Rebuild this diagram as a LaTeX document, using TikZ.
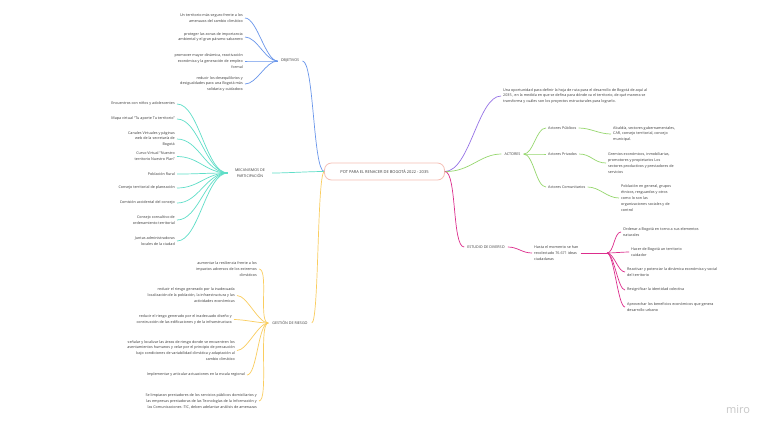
\documentclass[tikz,border=0pt]{standalone}
\usepackage{fontspec}
\setmainfont{Open Sans}
\definecolor{cBlue}{RGB}{105,150,235}
\definecolor{cTeal}{RGB}{95,222,200}
\definecolor{cYel}{RGB}{250,205,95}
\definecolor{cPur}{RGB}{150,115,230}
\definecolor{cGrn}{RGB}{150,215,110}
\definecolor{cPink}{RGB}{220,45,140}
\definecolor{cRoot}{RGB}{245,190,180}
\definecolor{cTxt}{RGB}{60,60,60}
\begin{document}
\begin{tikzpicture}[x=1pt,y=-1pt,
  txt/.style={inner xsep=2pt,inner ysep=0pt,text=cTxt,font=\fontsize{3.7}{5.9}\selectfont},
  tl/.style={txt,anchor=east,align=right},
  tr/.style={txt,anchor=west,align=left},
  lbl/.style={inner xsep=3pt,inner ysep=0pt,text=cTxt,align=center,font=\fontsize{3.7}{5.9}\selectfont},
  ln/.style={line width=0.7pt}]
\useasboundingbox[fill=white] (0,0) rectangle (768,432);

% root
\node[draw=cRoot,line width=0.8pt,fill=white,rounded corners=7pt,minimum width=120pt,minimum height=17pt,inner sep=0pt,text=cTxt,font=\fontsize{4}{5}\selectfont] (root) at (384.5,171.5) {POT PARA EL RENACER DE BOGOTÁ 2022 - 2035};

% objetivos
\node[lbl] (obj) at (290,61) {OBJETIVOS};
\node[tl] (o1) at (245,18) {Un territorio más seguro frente a los\\amenazas del cambio climático};
\node[tl] (o2) at (245,37) {proteger las zonas de importancia\\ambiental y el gran páramo sabanero};
\node[tl] (o3) at (245,61) {promover mayor dinámica, reactivación\\económica y la generación de empleo\\formal};
\node[tl] (o4) at (245,84) {reducir los desequilibrios y\\desigualdades para una Bogotá más\\solidaria y cuidadora};

% mecanismos
\node[lbl,inner xsep=7pt] (mec) at (250,173) {MECANISMOS DE\\PARTICIPACIÓN};
\node[tl] (m1) at (177,104) {Encuentros con niños y adolescentes};
\node[tl] (m2) at (177,119) {Mapa virtual “Tu aporte Tu territorio”};
\node[tl] (m3) at (177,139) {Canales Virtuales y páginas\\web de la secretaría de\\Bogotá};
\node[tl] (m4) at (177,156.5) {Curso Virtual “Nuestro\\territorio Nuestro Plan”};
\node[tl] (m5) at (177,174) {Población Rural};
\node[tl] (m6) at (177,188) {Consejo territorial de planeación};
\node[tl] (m7) at (177,203) {Comisión accidental del concejo};
\node[tl] (m8) at (177,220) {Consejo consultivo de\\ordenamiento territorial};
\node[tl] (m9) at (177,241) {Juntas administradoras\\locales de la ciudad};

% gestion de riesgo
\node[lbl,inner xsep=4pt] (gest) at (290,323) {GESTIÓN DE RIESGO};
\node[tl] (g1) at (259,269) {aumentar la resiliencia frente a los\\impactos adversos de los extremos\\climáticos};
\node[tl] (g2) at (237,295.5) {reducir el riesgo generado por la inadecuada\\localización de la población, la infraestructura y las\\actividades económicas};
\node[tl] (g3) at (234,319.5) {reducir el riesgo generado por el inadecuado diseño y\\construcción de las edificaciones y de la infraestructura};
\node[tl] (g4) at (237,350.5) {señalar y localizar las áreas de riesgo donde se encuentren los\\asentamientos humanos y velar por el principio de precaución\\bajo condiciones de variabilidad climática y adaptación al\\cambio climático};
\node[tl] (g5) at (247,375) {Implementar y articular actuaciones en la escala regional};
\node[tl] (g6) at (259,401) {Se limpiaran prestadores de los servicios públicos domiciliarios y\\las empresas prestadoras de las Tecnologías de la Información y\\las Comunicaciones -TIC, deben adelantar análisis de amenazas};

% description
\node[tr] (desc) at (501,96) {Una oportunidad para definir la hoja de ruta para el desarrollo de Bogotá de aquí al\\2035 , en la medida en que se defina para dónde va el territorio, de qué manera se\\transforma y cuáles son los proyectos estructurales para lograrlo.};

% actores
\node[lbl] (act) at (512.5,154) {ACTORES};
\node[tr] (pub) at (546,128) {Actores Públicos};
\node[tr] (priv) at (546,154) {Actores Privados};
\node[tr] (com) at (546,187) {Actores Comunitarios};
\node[tr] (pubg) at (611,134) {Alcaldía, sectores gubernamentales,\\CAR, consejo territorial, concejo\\municipal.};
\node[tr] (privg) at (606,163) {Gremios económicos, inmobiliarias,\\promotores y propietarios Los\\sectores productivos y prestadores de\\servicios};
\node[tr] (comg) at (619,198) {Población en general, grupos\\étnicos, resguardos y otros\\como lo son las\\organizaciones sociales y de\\control};

% estudio
\node[lbl] (est) at (486,247) {ESTUDIO DE DIVERSO};
\node[tr] (hasta) at (532,253) {Hasta el momento se han\\recolectado 76.671 ideas\\ciudadanas};
\coordinate (pconv) at (607,253);
\node[tr] (p1) at (621,232) {Ordenar a Bogotá en torno a sus elementos\\naturales};
\node[tr] (p2) at (629,252) {Hacer de Bogotá un territorio\\cuidador};
\node[tr] (p3) at (625,272) {Reactivar y potenciar la dinámica económica y social\\del territorio};
\node[tr] (p4) at (625,290) {Resignificar la identidad colectiva};
\node[tr] (p5) at (625,307) {Aprovechar los beneficios económicos que genera\\desarrollo urbano};

\node[text=black!22,inner sep=0pt,font=\fontsize{11}{11}\selectfont] (miro) at (738,410) {miro};

% connectors
\draw[ln,cBlue] (root.west) .. controls (313,170) and (314,61) .. (obj.east);
\foreach \n in {o1,o2,o3,o4}
  \draw[ln,cBlue] (obj.west) .. controls +(-12,0) and +(12,0) .. (\n.east);
\draw[ln,cTeal] (root.west) .. controls +(-15,0) and +(15,0) .. (mec.east);
\foreach \n in {m1,m2,m3,m4,m5,m6,m7,m8,m9}
  \draw[ln,cTeal] (mec.west) .. controls +(-22,0) and +(22,0) .. (\n.east);
\draw[ln,cYel] (root.west) .. controls (317,176) and (319,322) .. (gest.east);
\foreach \n in {g1,g2,g3,g4,g5,g6}
  \draw[ln,cYel] (gest.west) .. controls +(-10,0) and +(10,0) .. (\n.east);
\draw[ln,cPur] (root.east) .. controls (470,171) and (478,96) .. (desc.west);
\draw[ln,cGrn] (root.east) .. controls (470,172) and (480,154) .. (act.west);
\foreach \n in {pub,priv,com}
  \draw[ln,cGrn] (act.east) .. controls +(10,0) and +(-10,0) .. (\n.west);
\draw[ln,cGrn] (pub.east) .. controls +(12,0) and +(-12,0) .. (pubg.west);
\draw[ln,cGrn] (priv.east) .. controls +(12,0) and +(-12,0) .. (privg.west);
\draw[ln,cGrn] (com.east) .. controls +(12,0) and +(-12,0) .. (comg.west);
\draw[ln,cPink] (root.east) .. controls (457,172) and (452,247) .. (est.west);
\draw[ln,cPink] (est.east) .. controls +(10,0) and +(-10,0) .. (hasta.west);
\draw[ln,cPink] (hasta.east) -- (pconv);
\foreach \n in {p1,p2,p3,p4,p5}
  \draw[ln,cPink] (pconv) .. controls +(7,0) and +(-7,0) .. (\n.west);
\end{tikzpicture}
\end{document}
